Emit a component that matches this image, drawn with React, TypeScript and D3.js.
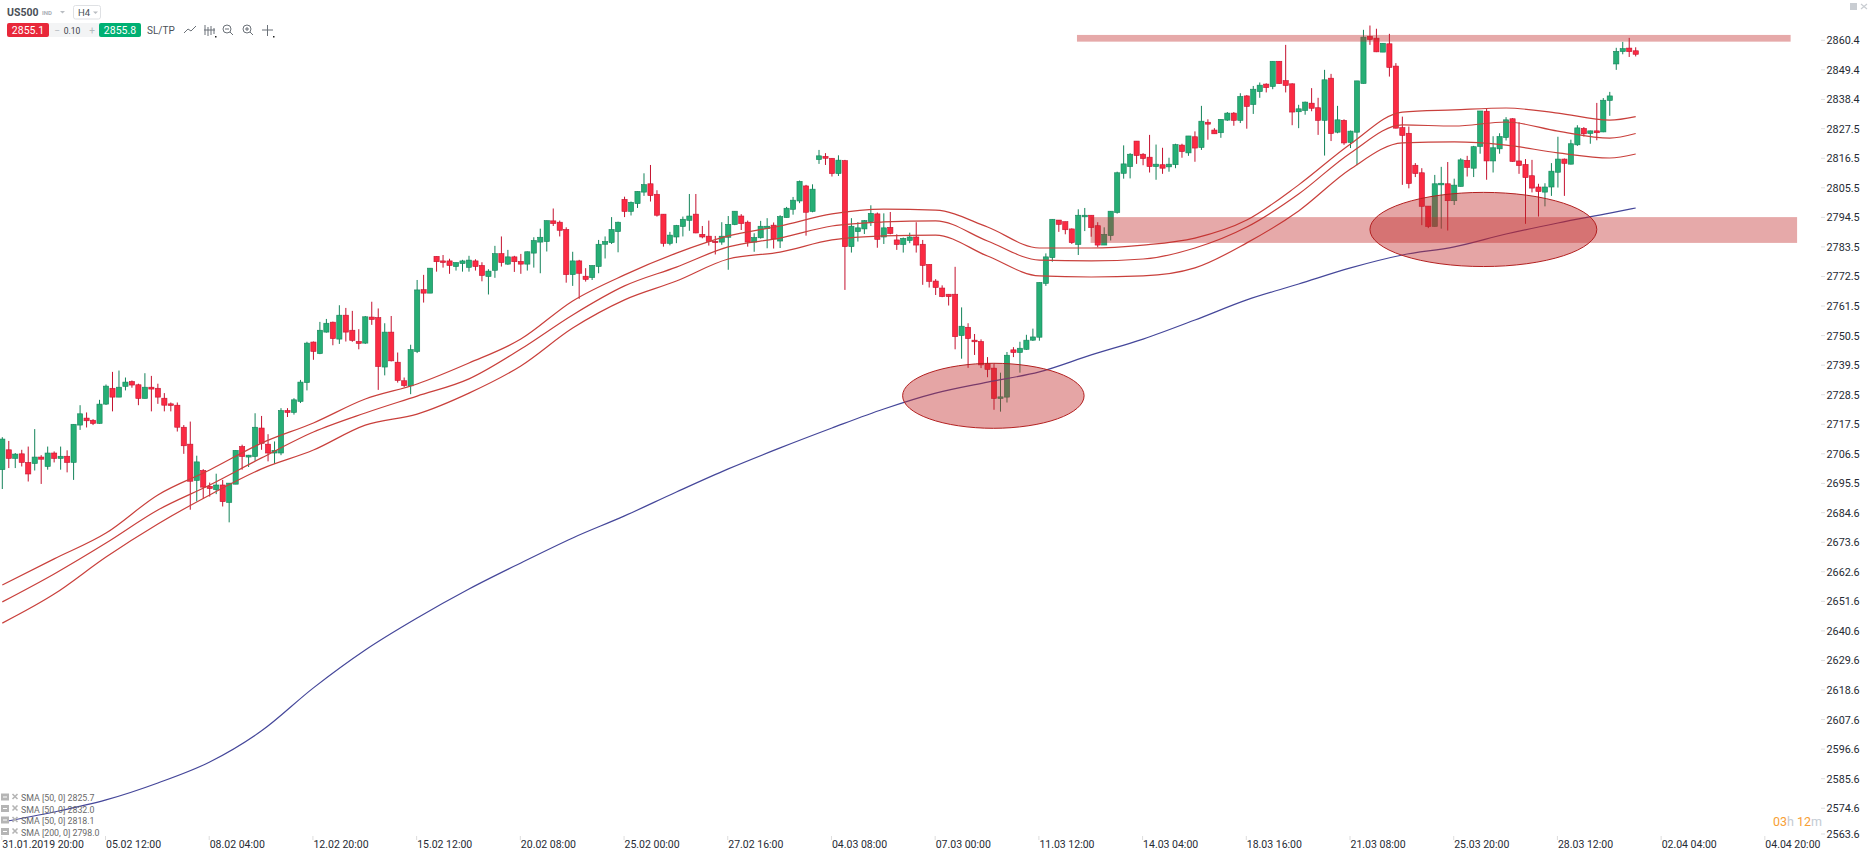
import React, { useRef, useEffect } from 'react';
import * as d3 from 'd3';

const opens = [
  2700.6, 2708.0, 2704.8, 2706.5, 2703.3, 2702.9, 2705.3, 2701.8, 2706.8, 2704.8, 2705.6, 2703.3, 2717.2, 2719.8, 2719.0, 2717.8,
  2725.0, 2730.9, 2727.6, 2731.6, 2733.4, 2732.2, 2727.1, 2731.3, 2730.9, 2727.2, 2725.1, 2724.6, 2716.4, 2710.1, 2696.6, 2700.3,
  2694.4, 2693.2, 2694.9, 2688.4, 2695.2, 2709.2, 2705.3, 2705.5, 2716.1, 2710.1, 2706.8, 2706.8, 2722.6, 2721.9, 2726.0, 2733.0,
  2748.1, 2743.8, 2751.8, 2755.5, 2749.2, 2758.1, 2752.5, 2748.3, 2747.7, 2757.4, 2757.2, 2738.8, 2751.8, 2740.6, 2733.7, 2731.8,
  2744.6, 2767.6, 2766.3, 2780.0, 2778.3, 2778.3, 2776.2, 2777.3, 2775.9, 2778.3, 2776.6, 2772.5, 2774.8, 2781.0, 2777.1, 2779.8,
  2778.1, 2777.1, 2781.2, 2785.3, 2785.5, 2793.2, 2792.7, 2790.0, 2773.2, 2778.3, 2772.6, 2772.1, 2776.2, 2784.5, 2785.1, 2789.2,
  2801.2, 2796.7, 2799.6, 2803.9, 2807.0, 2803.1, 2795.7, 2784.8, 2787.2, 2791.1, 2793.4, 2795.7, 2788.2, 2787.5, 2785.6, 2785.3,
  2787.1, 2791.8, 2795.0, 2792.7, 2785.3, 2786.9, 2790.3, 2791.6, 2785.7, 2794.4, 2797.5, 2800.6, 2806.2, 2796.7, 2816.0, 2817.2,
  2816.5, 2810.8, 2815.6, 2783.6, 2789.2, 2790.2, 2792.9, 2795.8, 2787.2, 2790.8, 2786.1, 2784.4, 2785.9, 2787.2, 2784.5, 2777.0,
  2770.8, 2768.2, 2765.9, 2765.9, 2750.5, 2753.6, 2748.8, 2748.3, 2740.0, 2738.4, 2727.1, 2727.6, 2745.2, 2744.2, 2745.4, 2748.8,
  2749.9, 2769.9, 2779.5, 2793.5, 2792.9, 2790.2, 2784.4, 2794.7, 2795.3, 2791.4, 2784.2, 2787.7, 2796.3, 2810.9, 2813.4, 2822.9,
  2818.0, 2816.9, 2813.4, 2814.1, 2813.3, 2814.1, 2821.4, 2818.5, 2824.5, 2820.5, 2829.9, 2827.0, 2826.0, 2830.7, 2833.3, 2830.6,
  2839.7, 2836.5, 2841.3, 2844.1, 2843.2, 2852.6, 2845.4, 2844.2, 2833.8, 2834.3, 2837.0, 2835.3, 2830.6, 2846.3, 2826.2, 2830.6,
  2822.4, 2826.2, 2844.3, 2861.9, 2861.2, 2856.0, 2859.1, 2850.8, 2827.9, 2825.8, 2813.9, 2811.1, 2798.7, 2791.1, 2806.6, 2807.0,
  2800.7, 2806.0, 2815.7, 2812.8, 2820.9, 2834.0, 2815.5, 2820.0, 2824.2, 2831.2, 2815.5, 2814.2, 2810.0, 2805.8, 2803.9, 2805.8,
  2811.3, 2816.2, 2814.3, 2821.5, 2827.6, 2825.7, 2826.7, 2826.3, 2838.0, 2851.6, 2856.2, 2857.5, 2856.5,
];

const highs = [
  2712.7, 2711.3, 2706.8, 2708.0, 2709.2, 2715.7, 2706.0, 2709.2, 2707.4, 2709.2, 2707.8, 2717.5, 2724.6, 2721.9, 2719.4, 2726.6,
  2732.3, 2737.0, 2737.5, 2734.9, 2733.8, 2732.6, 2736.5, 2735.5, 2732.6, 2729.1, 2725.6, 2725.6, 2717.2, 2718.5, 2705.8, 2700.8,
  2695.8, 2699.1, 2696.8, 2695.6, 2707.8, 2709.9, 2706.1, 2721.6, 2720.6, 2713.8, 2711.1, 2723.5, 2723.5, 2727.2, 2734.0, 2748.2,
  2748.3, 2755.6, 2756.7, 2755.7, 2761.8, 2760.8, 2759.7, 2752.9, 2757.8, 2763.1, 2760.6, 2755.1, 2757.8, 2744.2, 2734.9, 2747.1,
  2771.2, 2773.1, 2775.6, 2780.0, 2780.5, 2779.1, 2777.7, 2778.7, 2780.2, 2778.9, 2777.8, 2775.2, 2783.9, 2787.4, 2782.4, 2780.2,
  2780.9, 2781.8, 2787.1, 2790.3, 2793.3, 2797.8, 2793.3, 2790.8, 2781.7, 2778.7, 2775.6, 2776.6, 2786.1, 2787.4, 2794.6, 2792.9,
  2802.2, 2800.4, 2804.2, 2810.9, 2814.0, 2804.6, 2795.7, 2789.1, 2791.7, 2794.8, 2803.2, 2803.2, 2791.3, 2793.3, 2787.6, 2792.7,
  2795.0, 2796.8, 2795.7, 2793.3, 2788.6, 2793.2, 2794.2, 2792.6, 2795.3, 2798.4, 2802.1, 2808.2, 2806.6, 2806.8, 2819.6, 2818.4,
  2816.5, 2817.6, 2815.9, 2794.2, 2792.7, 2793.5, 2799.0, 2796.3, 2796.0, 2796.5, 2788.2, 2787.0, 2788.8, 2792.7, 2786.1, 2777.0,
  2771.5, 2769.2, 2765.9, 2776.1, 2761.0, 2755.1, 2751.1, 2749.1, 2742.5, 2740.2, 2736.7, 2744.4, 2746.2, 2748.2, 2750.8, 2753.1,
  2770.3, 2781.1, 2793.8, 2793.5, 2792.9, 2790.4, 2797.5, 2798.0, 2795.3, 2792.7, 2790.8, 2796.8, 2811.5, 2821.3, 2818.4, 2822.9,
  2818.4, 2825.2, 2821.6, 2820.4, 2816.7, 2821.9, 2821.9, 2824.8, 2826.5, 2836.0, 2831.0, 2827.7, 2831.0, 2833.7, 2833.7, 2840.7,
  2840.0, 2843.4, 2844.7, 2844.4, 2852.6, 2852.6, 2858.7, 2844.4, 2836.4, 2837.6, 2842.6, 2839.0, 2849.4, 2847.9, 2836.0, 2831.0,
  2826.8, 2845.3, 2864.3, 2865.9, 2864.7, 2859.3, 2862.8, 2851.9, 2832.0, 2828.3, 2814.7, 2812.8, 2798.7, 2810.3, 2813.3, 2815.1,
  2808.9, 2816.5, 2817.4, 2821.1, 2834.1, 2835.1, 2824.7, 2825.8, 2831.8, 2831.4, 2829.9, 2816.2, 2815.9, 2807.0, 2807.2, 2814.7,
  2824.5, 2816.4, 2823.4, 2828.8, 2828.1, 2826.8, 2837.1, 2838.9, 2841.2, 2857.6, 2859.8, 2861.3, 2857.8,
];

const lows = [
  2693.4, 2701.2, 2701.2, 2701.8, 2696.2, 2700.3, 2695.3, 2700.6, 2703.3, 2700.6, 2699.6, 2696.8, 2715.4, 2716.3, 2717.2, 2717.7,
  2724.7, 2722.3, 2727.6, 2730.1, 2731.1, 2724.6, 2727.1, 2722.3, 2725.1, 2722.3, 2722.3, 2714.8, 2706.5, 2685.7, 2688.8, 2689.8,
  2690.6, 2691.5, 2686.9, 2681.0, 2695.2, 2700.6, 2701.6, 2703.9, 2708.0, 2703.7, 2702.8, 2706.0, 2720.2, 2721.1, 2725.4, 2730.1,
  2741.5, 2743.6, 2751.6, 2746.9, 2747.4, 2748.3, 2748.2, 2745.4, 2747.4, 2754.5, 2730.3, 2735.7, 2740.9, 2733.0, 2731.3, 2728.7,
  2744.0, 2762.8, 2766.3, 2774.3, 2775.8, 2773.5, 2774.7, 2774.3, 2774.3, 2774.7, 2770.7, 2765.8, 2772.0, 2776.2, 2776.8, 2774.2,
  2773.5, 2774.7, 2775.8, 2773.7, 2781.8, 2791.3, 2787.4, 2770.2, 2769.0, 2764.2, 2770.6, 2771.2, 2773.7, 2779.2, 2784.6, 2781.5,
  2794.6, 2795.2, 2798.0, 2802.5, 2800.4, 2794.8, 2783.6, 2784.1, 2784.9, 2787.4, 2789.5, 2788.6, 2786.7, 2784.0, 2780.7, 2784.3,
  2775.0, 2791.6, 2789.8, 2783.6, 2781.7, 2786.6, 2783.0, 2782.9, 2783.1, 2794.4, 2795.5, 2799.8, 2787.7, 2796.4, 2814.4, 2814.0,
  2809.7, 2809.9, 2767.5, 2781.4, 2785.5, 2788.3, 2791.3, 2783.2, 2784.6, 2788.2, 2782.4, 2781.4, 2784.9, 2781.4, 2769.4, 2768.4,
  2765.6, 2764.8, 2761.7, 2745.4, 2741.9, 2738.5, 2743.3, 2738.4, 2735.0, 2722.9, 2722.2, 2725.6, 2742.5, 2736.7, 2745.2, 2748.5,
  2748.6, 2769.0, 2778.0, 2789.1, 2788.2, 2784.6, 2780.5, 2789.4, 2787.3, 2783.4, 2784.2, 2785.9, 2795.9, 2808.9, 2809.0, 2814.4,
  2813.9, 2811.2, 2808.5, 2810.7, 2811.5, 2812.8, 2816.7, 2817.4, 2815.2, 2819.6, 2823.4, 2825.6, 2824.1, 2830.4, 2828.6, 2829.6,
  2827.5, 2833.0, 2839.0, 2841.0, 2842.2, 2844.2, 2841.0, 2828.8, 2827.7, 2832.7, 2834.0, 2825.2, 2817.5, 2822.9, 2825.8, 2821.5,
  2820.3, 2813.9, 2844.3, 2858.7, 2856.0, 2856.0, 2846.9, 2827.6, 2806.6, 2805.3, 2809.5, 2791.6, 2790.5, 2791.1, 2790.3, 2789.6,
  2799.1, 2806.0, 2809.7, 2809.5, 2818.2, 2808.5, 2811.2, 2818.2, 2823.1, 2815.2, 2810.7, 2792.1, 2803.8, 2794.8, 2798.6, 2802.5,
  2805.6, 2802.5, 2814.2, 2821.1, 2824.6, 2821.9, 2823.2, 2826.2, 2832.3, 2849.4, 2855.2, 2854.2, 2854.4,
];

const closes = [
  2712.0, 2704.8, 2706.4, 2703.3, 2699.0, 2705.3, 2704.5, 2706.8, 2704.8, 2705.6, 2703.3, 2717.5, 2721.4, 2718.8, 2717.8, 2725.0,
  2731.7, 2727.6, 2731.3, 2733.2, 2732.1, 2727.1, 2731.3, 2730.6, 2727.6, 2724.6, 2724.5, 2716.4, 2709.5, 2696.3, 2703.5, 2694.1,
  2693.6, 2694.9, 2688.7, 2695.6, 2707.8, 2705.5, 2706.0, 2716.4, 2710.4, 2706.8, 2707.8, 2722.6, 2721.9, 2726.6, 2733.2, 2747.7,
  2744.6, 2752.5, 2755.1, 2749.4, 2758.1, 2751.8, 2748.7, 2747.6, 2757.5, 2756.5, 2739.0, 2751.8, 2741.1, 2733.8, 2731.9, 2745.3,
  2767.5, 2766.3, 2775.6, 2778.0, 2777.7, 2776.6, 2777.7, 2778.3, 2778.6, 2776.2, 2772.9, 2774.5, 2781.0, 2777.7, 2779.8, 2778.0,
  2777.1, 2781.7, 2785.9, 2787.1, 2793.3, 2792.2, 2789.7, 2773.2, 2778.3, 2773.7, 2771.4, 2776.6, 2784.5, 2785.5, 2790.0, 2792.7,
  2796.7, 2800.1, 2804.2, 2806.7, 2802.6, 2795.3, 2784.8, 2787.9, 2791.5, 2793.8, 2795.0, 2788.7, 2787.2, 2785.5, 2785.1, 2787.5,
  2791.9, 2796.8, 2792.2, 2785.3, 2787.0, 2791.2, 2791.2, 2786.5, 2794.8, 2797.9, 2800.9, 2807.9, 2796.4, 2805.0, 2817.4, 2816.5,
  2810.8, 2815.8, 2783.6, 2791.2, 2790.6, 2793.3, 2796.0, 2786.3, 2790.6, 2788.5, 2784.4, 2786.7, 2787.2, 2784.2, 2776.6, 2770.7,
  2768.4, 2765.0, 2765.0, 2750.1, 2754.0, 2749.4, 2748.2, 2739.6, 2737.9, 2727.1, 2727.7, 2743.2, 2744.2, 2745.8, 2748.8, 2750.0,
  2770.3, 2779.8, 2793.8, 2791.9, 2789.9, 2785.1, 2795.3, 2795.3, 2790.7, 2784.2, 2788.2, 2796.8, 2811.1, 2814.4, 2818.0, 2817.5,
  2816.4, 2813.4, 2814.3, 2812.8, 2814.3, 2821.6, 2819.0, 2824.8, 2820.3, 2830.3, 2829.2, 2825.6, 2831.0, 2833.3, 2830.6, 2839.5,
  2835.8, 2842.2, 2843.7, 2842.8, 2852.6, 2844.3, 2843.6, 2833.7, 2834.9, 2837.4, 2835.1, 2830.6, 2845.7, 2825.7, 2830.8, 2822.2,
  2826.6, 2845.3, 2861.6, 2860.7, 2856.1, 2859.3, 2850.3, 2827.7, 2825.0, 2807.1, 2810.8, 2798.6, 2791.1, 2807.0, 2807.2, 2800.7,
  2806.5, 2815.9, 2813.1, 2820.8, 2834.1, 2815.5, 2820.4, 2824.6, 2830.8, 2815.3, 2813.8, 2809.3, 2805.4, 2804.1, 2805.8, 2811.7,
  2816.2, 2814.6, 2821.9, 2827.8, 2825.6, 2826.7, 2826.0, 2838.1, 2839.7, 2856.3, 2857.3, 2856.2, 2855.2,
];

// moving averages, read every 8th bar
const smaBars = [0, 8, 16, 24, 32, 40, 48, 56, 64, 72, 80, 88, 96, 104, 112, 120, 128, 136, 144, 152, 160, 168, 176, 184, 192, 200, 208, 216, 224, 232, 240, 248, 252];
const smaUpper = [2657.7, 2667.4, 2677.0, 2691.2, 2700.5, 2710.5, 2718.0, 2726.9, 2732.5, 2740.3, 2749.2, 2763.4, 2773.1, 2781.2, 2787.6, 2791.3, 2795.8, 2797.6, 2797.2, 2790.9, 2783.1, 2783.1, 2784.2, 2786.8, 2793.5, 2806.6, 2821.8, 2833.7, 2834.5, 2835.2, 2833.3, 2830.7, 2832.0];
const smaMiddle = [2651.4, 2661.8, 2673.3, 2685.6, 2694.9, 2705.0, 2714.6, 2721.7, 2728.0, 2734.4, 2745.5, 2758.2, 2769.0, 2776.0, 2783.5, 2786.8, 2791.3, 2792.8, 2793.2, 2785.7, 2778.6, 2778.3, 2779.0, 2783.1, 2790.9, 2803.2, 2818.5, 2828.9, 2828.5, 2830.0, 2826.6, 2824.0, 2825.7];
const smaLower = [2643.5, 2654.3, 2668.1, 2680.4, 2691.2, 2700.9, 2707.9, 2717.2, 2721.3, 2729.1, 2739.2, 2753.3, 2763.8, 2770.8, 2779.0, 2781.6, 2786.1, 2787.6, 2787.9, 2780.1, 2772.7, 2772.3, 2772.7, 2775.7, 2785.0, 2796.9, 2812.5, 2822.2, 2822.6, 2821.4, 2818.5, 2816.6, 2818.1];
const sma200 = [2569.5, 2573.2, 2577.7, 2584.0, 2591.8, 2603.4, 2619.4, 2633.5, 2645.4, 2656.2, 2665.9, 2675.2, 2683.4, 2692.3, 2700.9, 2708.7, 2716.1, 2723.2, 2729.1, 2733.2, 2737.0, 2743.3, 2749.2, 2756.3, 2763.8, 2769.7, 2775.7, 2780.5, 2783.5, 2788.3, 2792.4, 2796.1, 2798.0];

const priceTicks = [2860.4, 2849.4, 2838.4, 2827.5, 2816.5, 2805.5, 2794.5, 2783.5, 2772.5, 2761.5, 2750.5, 2739.5, 2728.5, 2717.5, 2706.5, 2695.5, 2684.6, 2673.6, 2662.6, 2651.6, 2640.6, 2629.6, 2618.6, 2607.6, 2596.6, 2585.6, 2574.6, 2563.6];
const dateTicks = ['31.01.2019 20:00', '05.02 12:00', '08.02 04:00', '12.02 20:00', '15.02 12:00', '20.02 08:00', '25.02 00:00', '27.02 16:00', '04.03 08:00', '07.03 00:00', '11.03 12:00', '14.03 04:00', '18.03 16:00', '21.03 08:00', '25.03 20:00', '28.03 12:00', '02.04 04:00', '04.04 20:00'];
const legendRows = ['SMA [50, 0] 2825.7', 'SMA [50, 0] 2832.0', 'SMA [50, 0] 2818.1', 'SMA [200, 0] 2798.0'];

// drawn zones: [bar from, bar to, price top, price bottom]
const zones = [
  [165.8, 275.9, 2862.4, 2859.9],
  [167.9, 276.9, 2794.6, 2785.0],
];
// drawn ellipses: [centre bar, radius in bars, centre price, radius in price]
const ellipses = [
  [152.9, 14.0, 2728.1, 12.1],
  [228.5, 17.5, 2790.0, 13.8],
];

const WIDTH = 1869;
const HEIGHT = 856;
const FONT = 'Roboto, sans-serif';

const App: React.FC = () => {
  const svgRef = useRef<SVGSVGElement>(null);

  useEffect(() => {
    if (!svgRef.current) return;
    const svg = d3.select(svgRef.current);
    svg.selectAll('*').remove();

    const x = d3.scaleLinear().domain([0, 252]).range([2.3, 1635.7]);
    const y = d3.scaleLinear().domain([2563.6, 2860.4]).range([837.8, 40.3]);

    // candles
    const candles = svg.append('g');
    opens.forEach((o, i) => {
      const c = closes[i];
      const up = c >= o;
      candles.append('line')
        .attr('x1', x(i)).attr('x2', x(i))
        .attr('y1', y(highs[i])).attr('y2', y(lows[i]))
        .attr('stroke', up ? '#14835a' : '#c4122f')
        .attr('stroke-width', 1);
      candles.append('rect')
        .attr('x', x(i) - 2.6)
        .attr('y', y(Math.max(o, c)))
        .attr('width', 5.2)
        .attr('height', Math.max(1.2, Math.abs(y(o) - y(c))))
        .attr('fill', up ? '#26ae75' : '#fb2a42')
        .attr('stroke', up ? '#14835a' : '#c4122f')
        .attr('stroke-width', 0.6);
    });

    // moving averages
    const line = d3.line<number>()
      .x((_, i) => x(smaBars[i]))
      .y(d => y(d))
      .curve(d3.curveMonotoneX);
    [smaUpper, smaMiddle, smaLower].forEach(series => {
      svg.append('path').datum(series).attr('d', line)
        .attr('fill', 'none').attr('stroke', '#c9403c').attr('stroke-width', 1.2);
    });
    svg.append('path').datum(sma200).attr('d', line)
      .attr('fill', 'none').attr('stroke', '#45479a').attr('stroke-width', 1.2);

    // drawn objects
    zones.forEach(([b0, b1, top, bottom]) => {
      svg.append('rect')
        .attr('x', x(b0)).attr('width', x(b1) - x(b0))
        .attr('y', y(top)).attr('height', y(bottom) - y(top))
        .attr('fill', '#c02828').attr('fill-opacity', 0.4);
    });
    ellipses.forEach(([bar, rBars, price, rPrice]) => {
      svg.append('ellipse')
        .attr('cx', x(bar)).attr('cy', y(price))
        .attr('rx', x(rBars) - x(0)).attr('ry', y(price - rPrice) - y(price))
        .attr('fill', '#c02828').attr('fill-opacity', 0.42)
        .attr('stroke', '#b32020').attr('stroke-width', 1);
    });

    // price axis
    const priceAxis = svg.append('g');
    priceTicks.forEach(p => {
      const py = Math.min(y(p), 834);
      priceAxis.append('line').attr('x1', 1821).attr('x2', 1825).attr('y1', py).attr('y2', py)
        .attr('stroke', '#dddddd');
      priceAxis.append('text').attr('x', 1826.5).attr('y', py + 4)
        .attr('font-family', FONT).attr('font-size', 10.8).attr('fill', '#262b34')
        .text(p.toFixed(1));
    });

    // date axis
    const dateAxis = svg.append('g');
    dateTicks.forEach((label, i) => {
      const dx = x(i * 16);
      dateAxis.append('line').attr('x1', dx - 0.5).attr('x2', dx - 0.5).attr('y1', 836).attr('y2', 840)
        .attr('stroke', '#dddddd');
      dateAxis.append('text').attr('x', dx).attr('y', 848)
        .attr('font-family', FONT).attr('font-size', 10.5).attr('fill', '#262b34')
        .text(label);
    });

    // countdown
    const timer = svg.append('text').attr('x', 1773).attr('y', 825.5)
      .attr('font-family', FONT).attr('font-size', 12.5);
    [['03', '#f7a035'], ['h', '#c3cbd3'], [' 12', '#f7a035'], ['m', '#c3cbd3']].forEach(([t, col]) => {
      timer.append('tspan').attr('fill', col).attr('xml:space', 'preserve').text(t);
    });

    // indicator legend
    legendRows.forEach((label, i) => {
      const ly = 797.5 + i * 11.5;
      const row = svg.append('g');
      row.append('rect').attr('x', 1).attr('y', ly - 4).attr('width', 8).attr('height', 7).attr('fill', '#b5b5b5');
      row.append('rect').attr('x', 3).attr('y', ly - 1).attr('width', 4).attr('height', 1).attr('fill', '#ffffff');
      row.append('path').attr('d', `M12.5,${ly - 3.5}L17.5,${ly + 1.5}M17.5,${ly - 3.5}L12.5,${ly + 1.5}`)
        .attr('stroke', '#b5b5b5').attr('stroke-width', 1.6);
      row.append('text').attr('x', 21).attr('y', ly + 3.5)
        .attr('font-family', FONT).attr('font-size', 8.8).attr('fill', '#6a6a6a')
        .text(label);
    });

    // trade toolbar
    const bar = svg.append('g').attr('font-family', FONT);
    bar.append('text').attr('x', 7).attr('y', 16).attr('font-size', 10.5).attr('font-weight', 700).attr('fill', '#4a5058').text('US500');
    bar.append('text').attr('x', 42).attr('y', 15).attr('font-size', 6).attr('font-weight', 700).attr('fill', '#a8aeb5').text('IND');
    bar.append('path').attr('d', 'M60,11L65,11L62.5,13.5Z').attr('fill', '#b9bdc2');
    bar.append('rect').attr('x', 73.5).attr('y', 5.5).attr('width', 27).attr('height', 13.5).attr('rx', 2)
      .attr('fill', '#ffffff').attr('stroke', '#dfe1e4');
    bar.append('text').attr('x', 78).attr('y', 16).attr('font-size', 9.5).attr('fill', '#4a5058').text('H4');
    bar.append('path').attr('d', 'M93,11.5L98,11.5L95.5,14Z').attr('fill', '#b9bdc2');

    bar.append('rect').attr('x', 49).attr('y', 23).attr('width', 52).attr('height', 14).attr('fill', '#f3f4f5');
    bar.append('rect').attr('x', 7).attr('y', 23).attr('width', 42).attr('height', 14).attr('rx', 2).attr('fill', '#e8283a');
    bar.append('rect').attr('x', 99).attr('y', 23).attr('width', 42).attr('height', 14).attr('rx', 2).attr('fill', '#00b073');
    bar.append('text').attr('x', 28).attr('y', 34).attr('text-anchor', 'middle').attr('font-size', 10.5).attr('fill', '#ffffff').text('2855.1');
    bar.append('text').attr('x', 120).attr('y', 34).attr('text-anchor', 'middle').attr('font-size', 10.5).attr('fill', '#ffffff').text('2855.8');
    bar.append('text').attr('x', 57).attr('y', 34).attr('text-anchor', 'middle').attr('font-size', 10).attr('fill', '#b5b9be').text('−');
    bar.append('text').attr('x', 72).attr('y', 34).attr('text-anchor', 'middle').attr('font-size', 8.5).attr('fill', '#3a4048').text('0.10');
    bar.append('text').attr('x', 92).attr('y', 34).attr('text-anchor', 'middle').attr('font-size', 10).attr('fill', '#b5b9be').text('+');
    bar.append('text').attr('x', 147).attr('y', 34).attr('font-size', 10).attr('fill', '#4a5058').text('SL/TP');

    const icons = bar.append('g').attr('fill', 'none').attr('stroke', '#6b7178').attr('stroke-width', 1);
    icons.append('path').attr('d', 'M184,33L188,29L191,31L196,26');
    icons.append('path').attr('d', 'M205,25V35M208,27V36M211,26V35M214,28V34M204,30H215');
    icons.append('circle').attr('cx', 227).attr('cy', 29).attr('r', 4);
    icons.append('path').attr('d', 'M225,29H229M230,32L233,35');
    icons.append('circle').attr('cx', 247).attr('cy', 29).attr('r', 4);
    icons.append('path').attr('d', 'M245,29H249M247,27V31M250,32L253,35');
    icons.append('path').attr('d', 'M262,30H273M267.5,25V36');
    bar.append('rect').attr('x', 215).attr('y', 36).attr('width', 1.5).attr('height', 1.5).attr('fill', '#222');
    bar.append('rect').attr('x', 273).attr('y', 36).attr('width', 1.5).attr('height', 1.5).attr('fill', '#222');

    // window buttons
    svg.append('rect').attr('x', 1850).attr('y', 3).attr('width', 7).attr('height', 7).attr('fill', '#c9cdd2');
    svg.append('path').attr('d', 'M1861,4L1867,9M1867,4L1861,9').attr('stroke', '#c9cdd2').attr('stroke-width', 1.2);
  }, []);

  return (
    <svg
      ref={svgRef}
      width={WIDTH}
      height={HEIGHT}
      style={{ position: 'absolute', left: 0, top: 0, background: '#ffffff' }}
    />
  );
};

export default App;
